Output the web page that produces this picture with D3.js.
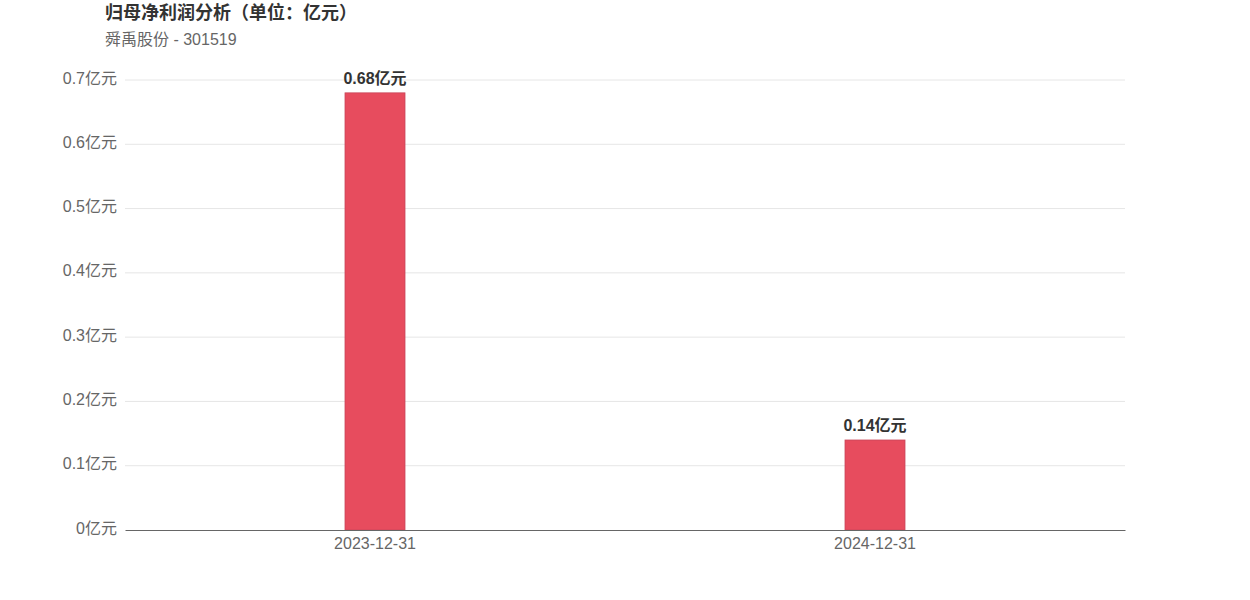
<!DOCTYPE html>
<html>
<head>
<meta charset="utf-8">
<script src="https://cdn.jsdelivr.net/npm/d3@7"></script>
<style>
  body { margin: 0; background: #fff; }
  text { font-family: "Liberation Sans", Arial, "Noto Sans CJK SC", sans-serif; }
</style>
</head>
<body>
<script>
// chart data
var categories = ["2023-12-31", "2024-12-31"];
var profits = [0.68, 0.14];
var yTicks = [0, 0.1, 0.2, 0.3, 0.4, 0.5, 0.6, 0.7];

var width = 1250, height = 600;
var margin = {top: 80, right: 125, bottom: 70, left: 125};
var fontStack = "'Liberation Sans', Arial, 'Noto Sans CJK SC', sans-serif";

var svg = d3.select("body").append("svg")
  .attr("width", width)
  .attr("height", height);

var x = d3.scaleBand()
  .domain(categories)
  .range([margin.left, width - margin.right]);

var y = d3.scaleLinear()
  .domain([0, 0.7])
  .range([height - margin.bottom, margin.top]);

// title
svg.append("text")
  .attr("x", 105).attr("y", 19)
  .attr("font-size", 18).attr("font-weight", "bold")
  .attr("fill", "#333")
  .text("归母净利润分析（单位：亿元）");

svg.append("text")
  .attr("x", 105).attr("y", 45)
  .attr("font-size", 16)
  .attr("fill", "#666")
  .text("舜禹股份 - 301519");

// grid lines
svg.append("g")
  .selectAll("line")
  .data(yTicks.filter(function(d) { return d > 0; }))
  .enter().append("line")
  .attr("x1", margin.left).attr("x2", width - margin.right)
  .attr("y1", function(d) { return y(d); })
  .attr("y2", function(d) { return y(d); })
  .attr("stroke", "#e6e6e6");

// y axis
var yAxis = svg.append("g")
  .attr("transform", "translate(" + margin.left + ",-2)")
  .call(d3.axisLeft(y).tickValues(yTicks).tickSize(0).tickPadding(8)
    .tickFormat(function(d) { return d3.format("~g")(d) + "亿元"; }));
yAxis.select(".domain").remove();
yAxis.selectAll("text").attr("font-size", 16).attr("fill", "#666")
  .style("font-family", fontStack);

// bars
var barW = 60;
svg.append("g")
  .selectAll("rect")
  .data(profits)
  .enter().append("rect")
  .attr("x", function(d, i) { return x(categories[i]) + x.bandwidth() / 2 - barW / 2; })
  .attr("y", function(d) { return y(d); })
  .attr("width", barW)
  .attr("height", function(d) { return y(0) - y(d); })
  .attr("fill", "#e74c5e")
  .attr("stroke", "#c9485a")
  .attr("stroke-width", 0.8);

// value labels
svg.append("g")
  .selectAll("text")
  .data(profits)
  .enter().append("text")
  .attr("x", function(d, i) { return x(categories[i]) + x.bandwidth() / 2; })
  .attr("y", function(d) { return y(d) - 9; })
  .attr("text-anchor", "middle")
  .attr("font-size", 16).attr("font-weight", "bold")
  .attr("fill", "#333")
  .text(function(d) { return d.toFixed(2) + "亿元"; });

// x axis
var xAxis = svg.append("g")
  .attr("transform", "translate(0," + y(0) + ")")
  .call(d3.axisBottom(x).tickSize(0).tickPadding(8));
xAxis.select(".domain").attr("stroke", "#666");
xAxis.selectAll("text").attr("font-size", 16).attr("fill", "#666")
  .style("font-family", fontStack);
</script>
</body>
</html>
